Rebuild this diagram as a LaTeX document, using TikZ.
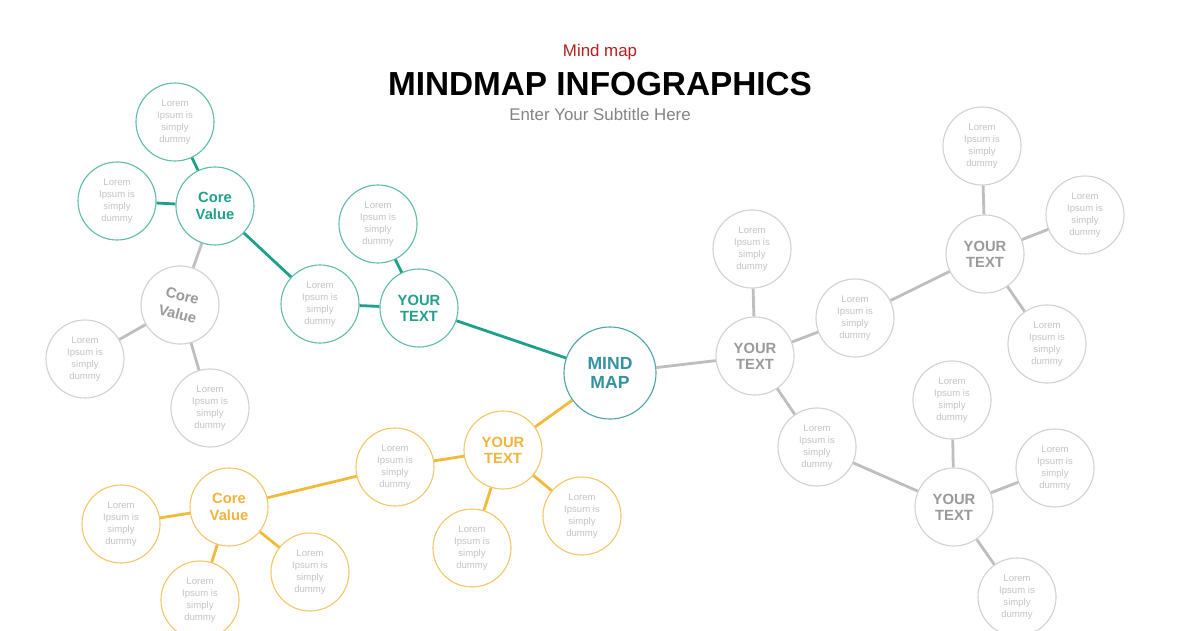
\documentclass[tikz,border=0pt]{standalone}
\usepackage{fontspec}
\setmainfont{Liberation Sans}
\definecolor{tealL}{HTML}{1FA08B}
\definecolor{tealB}{HTML}{62BCAC}
\definecolor{tealT}{HTML}{22A08C}
\definecolor{mapB}{HTML}{4FA5AE}
\definecolor{mapT}{HTML}{3592A0}
\definecolor{goldL}{HTML}{F2BA3A}
\definecolor{goldB}{HTML}{F3C86A}
\definecolor{goldT}{HTML}{F1B43E}
\definecolor{greyL}{HTML}{BEBEBE}
\definecolor{greyB}{HTML}{D2D2D2}
\definecolor{greyT}{HTML}{9A9A9A}
\definecolor{leaftext}{HTML}{C4C4C4}
\definecolor{titleR}{HTML}{B51E1E}
\newcommand{\lorem}{Lorem\\Ipsum is\\simply\\dummy}
\begin{document}
\begin{tikzpicture}[x=0.025cm, y=-0.025cm,
	leaf/.style={circle, draw=#1, line width=0.8pt, fill=white, minimum size=1.95cm, inner sep=0pt, align=center, text=leaftext, font=\fontsize{6.8}{8.6}\selectfont},
	hub/.style={circle, draw=#1, line width=0.8pt, fill=white, minimum size=1.95cm, inner sep=0pt, align=center, font=\fontsize{10.5}{11.6}\selectfont\bfseries},
	link/.style={draw=#1, line width=2pt}]
	\useasboundingbox (0,0) rectangle (1200,630);

	% title
	\node [anchor=base, text=titleR, font=\fontsize{12}{14}\selectfont] (kicker) at (600,57) {Mind map};
	\node [anchor=base, font=\fontsize{23.7}{28}\selectfont\bfseries] (title) at (600,96) {MINDMAP INFOGRAPHICS};
	\node [anchor=base, text=greyT!85!black, font=\fontsize{12}{14}\selectfont] (subtitle) at (600,121) {Enter Your Subtitle Here};

	% center
	\node [hub=mapB, text=mapT, minimum size=2.3cm, font=\fontsize{12.5}{14}\selectfont\bfseries] (mm) at (610,373) {MIND\\MAP};

	% teal branch
	\node [hub=tealB, text=tealT] (tyt) at (419,308) {YOUR\\TEXT};
	\node [leaf=tealB] (tla) at (378,224) {\lorem};
	\node [leaf=tealB] (tl) at (320,304) {\lorem};
	\node [hub=tealB, text=tealT] (tcv) at (215,206) {Core\\Value};
	\node [leaf=tealB] (tcvt) at (175,122) {\lorem};
	\node [leaf=tealB] (tcvl) at (117,201) {\lorem};
	\draw [link=tealL] (mm) -- (tyt);
	\draw [link=tealL] (tyt) -- (tla);
	\draw [link=tealL] (tyt) -- (tl);
	\draw [link=tealL] (tl) -- (tcv);
	\draw [link=tealL] (tcv) -- (tcvt);
	\draw [link=tealL] (tcv) -- (tcvl);

	% grey core value
	\node [hub=greyB, text=greyT, rotate=-15, font=\fontsize{10.5}{13.5}\selectfont\bfseries] (gcv) at (180,305) {Core\\Value};
	\node [leaf=greyB] (gcvl) at (85,359) {\lorem};
	\node [leaf=greyB] (gcvb) at (210,408) {\lorem};
	\draw [link=greyL] (tcv) -- (gcv);
	\draw [link=greyL] (gcv) -- (gcvl);
	\draw [link=greyL] (gcv) -- (gcvb);

	% gold branch
	\node [hub=goldB, text=goldT] (yyt) at (503,450) {YOUR\\TEXT};
	\node [leaf=goldB] (yl) at (395,467) {\lorem};
	\node [leaf=goldB] (ylb) at (472,548) {\lorem};
	\node [leaf=goldB] (ylr) at (582,516) {\lorem};
	\node [hub=goldB, text=goldT] (ycv) at (229,507) {Core\\Value};
	\node [leaf=goldB] (ycvl) at (121,524) {\lorem};
	\node [leaf=goldB] (ycvb) at (200,600) {\lorem};
	\node [leaf=goldB] (ycvr) at (310,572) {\lorem};
	\draw [link=goldL] (mm) -- (yyt);
	\draw [link=goldL] (yyt) -- (yl);
	\draw [link=goldL] (yyt) -- (ylb);
	\draw [link=goldL] (yyt) -- (ylr);
	\draw [link=goldL] (yl) -- (ycv);
	\draw [link=goldL] (ycv) -- (ycvl);
	\draw [link=goldL] (ycv) -- (ycvb);
	\draw [link=goldL] (ycv) -- (ycvr);

	% grey branch
	\node [hub=greyB, text=greyT] (ryt) at (755,356) {YOUR\\TEXT};
	\node [leaf=greyB] (ryta) at (752,249) {\lorem};
	\node [leaf=greyB] (rl) at (855,318) {\lorem};
	\node [leaf=greyB] (rlb) at (817,447) {\lorem};
	\draw [link=greyL] (mm) -- (ryt);
	\draw [link=greyL] (ryt) -- (ryta);
	\draw [link=greyL] (ryt) -- (rl);
	\draw [link=greyL] (ryt) -- (rlb);

	% grey branch, upper
	\node [hub=greyB, text=greyT] (rup) at (985,254) {YOUR\\TEXT};
	\node [leaf=greyB] (rupt) at (982,146) {\lorem};
	\node [leaf=greyB] (rupr) at (1085,215) {\lorem};
	\node [leaf=greyB] (rupb) at (1047,344) {\lorem};
	\draw [link=greyL] (rl) -- (rup);
	\draw [link=greyL] (rup) -- (rupt);
	\draw [link=greyL] (rup) -- (rupr);
	\draw [link=greyL] (rup) -- (rupb);

	% grey branch, lower
	\node [hub=greyB, text=greyT] (rlo) at (954,507) {YOUR\\TEXT};
	\node [leaf=greyB] (rlot) at (952,400) {\lorem};
	\node [leaf=greyB] (rlor) at (1055,468) {\lorem};
	\node [leaf=greyB] (rlob) at (1017,597) {\lorem};
	\draw [link=greyL] (rlb) -- (rlo);
	\draw [link=greyL] (rlo) -- (rlot);
	\draw [link=greyL] (rlo) -- (rlor);
	\draw [link=greyL] (rlo) -- (rlob);
\end{tikzpicture}
\end{document}
